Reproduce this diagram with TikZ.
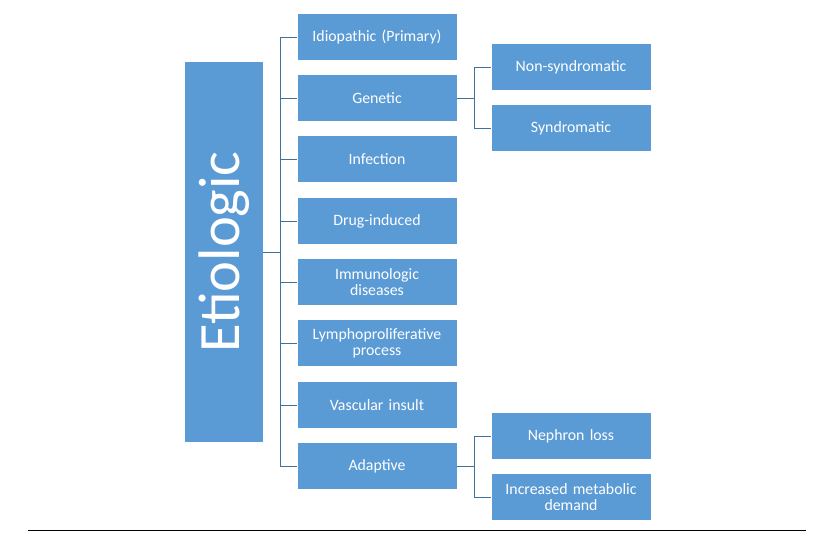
\documentclass[tikz,border=0pt]{standalone}
\usepackage{fontspec}
\setmainfont{Carlito}
\usetikzlibrary{positioning}
\definecolor{boxblue}{HTML}{5B9BD5}
\definecolor{linkblue}{HTML}{41719C}
\tikzset{
  cat/.style={draw=white, line width=0.6pt, fill=boxblue, text=white,
    minimum width=4.8cm, minimum height=1.41cm, inner sep=1pt,
    text width=4.7cm, align=center, font=\fontsize{13.5}{14}\selectfont},
  link/.style={draw=linkblue, line width=0.8pt}
}
\begin{document}
\begin{tikzpicture}[x=0.03cm, y=-0.03cm]
\useasboundingbox (0,0) rectangle (840,553);

\node[fill=boxblue, minimum width=2.34cm, minimum height=11.4cm] (root) at (224,252) {};
\node[rotate=90, text=white, font=\fontsize{50}{50}\selectfont] at (root.center) {Etiologic};

\node[cat] (idio) at (377,37) {Idiopathic (Primary)};
\node[cat] (gen) at (377,98) {Genetic};
\node[cat] (inf) at (377,159) {Infection};
\node[cat] (drug) at (377,221) {Drug-induced};
\node[cat] (imm) at (377,282) {Immunologic\\diseases};
\node[cat] (lym) at (377,343) {Lymphoproliferative\\process};
\node[cat] (vas) at (377,405) {Vascular insult};
\node[cat] (adap) at (377,466) {Adaptive};

\node[cat] (nons) at (571,67) {Non-syndromatic};
\node[cat] (synd) at (571,128) {Syndromatic};
\node[cat] (neph) at (571,436) {Nephron loss};
\node[cat] (meta) at (571,497) {Increased metabolic\\demand};

% connectors
\coordinate (bus) at (280,252);
\draw[link] (root.east) -- (bus);
\foreach \n in {idio,gen,inf,drug,imm,lym,vas,adap}
  \draw[link] (bus) |- (\n.west);
\coordinate (genbus) at (474,98);
\draw[link] (gen.east) -- (genbus);
\foreach \n in {nons,synd}
  \draw[link] (genbus) |- (\n.west);
\coordinate (adapbus) at (474,466);
\draw[link] (adap.east) -- (adapbus);
\foreach \n in {neph,meta}
  \draw[link] (adapbus) |- (\n.west);

\coordinate (ruleL) at (28,530);
\coordinate (ruleR) at (806,530);
\draw[black, line width=0.6pt] (ruleL) -- (ruleR);
\end{tikzpicture}
\end{document}
